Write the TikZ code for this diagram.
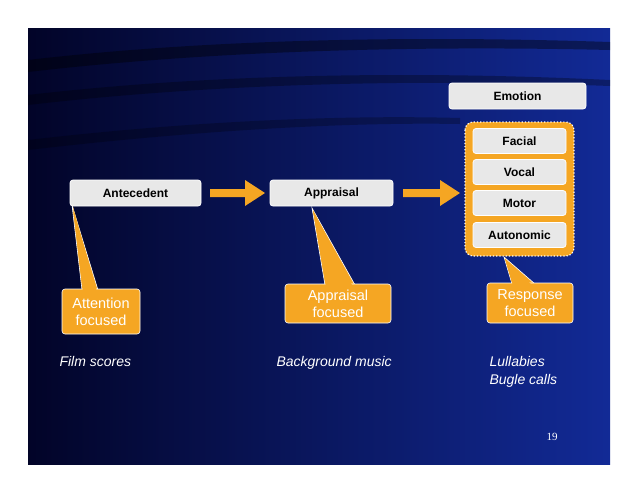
\documentclass[tikz,border=0pt]{standalone}
\usepackage{fontspec}
\setmainfont{Liberation Sans}
\begin{document}
\begin{tikzpicture}[x=1pt,y=-1pt,
  gbox/.style={draw=white,line width=0.8pt,fill=gray!18,rounded corners=3pt,font=\bfseries\fontsize{12}{13}\selectfont,text=black},
  callout/.style={draw=white,line width=0.6pt,fill=orange1,rounded corners=3pt,text=white,font=\fontsize{14.5}{17}\selectfont,align=center},
  note/.style={text=white,font=\itshape\fontsize{14}{18}\selectfont,anchor=north west,align=left},
  blockarrow/.style={fill=orange1,draw=none}]
\definecolor{orange1}{HTML}{F5A623}
\useasboundingbox (0,0) rectangle (638,493);
\fill[white] (0,0) rectangle (638,493);
\shade[left color={rgb,255:red,2;green,4;blue,40}, middle color={rgb,255:red,10;green,26;blue,120}, right color={rgb,255:red,18;green,42;blue,150}] (28,28) rectangle (610,464);
\fill[black,opacity=0.4] (28,60) .. controls (200,40) and (400,35) .. (610,42) -- (610,50) .. controls (400,45) and (200,52) .. (28,72) -- cycle;
\fill[black,opacity=0.3] (28,95) .. controls (200,75) and (400,70) .. (610,80) -- (610,86) .. controls (400,78) and (200,85) .. (28,105) -- cycle;
\fill[black,opacity=0.25] (28,140) .. controls (200,120) and (350,115) .. (460,118) -- (460,124) .. controls (350,122) and (200,130) .. (28,150) -- cycle;

\node[gbox,minimum width=137pt,minimum height=26pt] (emo) at (517.5,96) {Emotion};
\draw[white,line width=1.2pt,dotted,fill=orange1,rounded corners=8pt] (465,122) rectangle (574,256);
\node[gbox,minimum width=93pt,minimum height=25pt] (fac) at (519.5,141) {Facial};
\node[gbox,minimum width=93pt,minimum height=25pt] (voc) at (519.5,172) {Vocal};
\node[gbox,minimum width=93pt,minimum height=25pt] (mot) at (519.5,203) {Motor};
\node[gbox,minimum width=93pt,minimum height=25pt] (aut) at (519.5,235) {Autonomic};

\node[gbox,minimum width=131pt,minimum height=26pt] (ant) at (135.5,193) {Antecedent};
\node[gbox,minimum width=123pt,minimum height=26pt] (app) at (331.5,193) {Appraisal};

\fill[blockarrow] (210,189) -- (245,189) -- (245,180) -- (265,193) -- (245,206) -- (245,197) -- (210,197) -- cycle;
\fill[blockarrow] (403,189) -- (440,189) -- (440,180) -- (460,193) -- (440,206) -- (440,197) -- (403,197) -- cycle;

\fill[orange1,draw=white,line width=0.6pt] (72,205) -- (98,290) -- (82,290) -- cycle;
\node[callout,minimum width=78pt,minimum height=45pt] (att) at (101,311.5) {Attention\\focused};
\fill[orange1] (73,207) -- (97,292) -- (83,292) -- cycle;

\fill[orange1,draw=white,line width=0.6pt] (312,208) -- (355,285) -- (325,285) -- cycle;
\node[callout,minimum width=106pt,minimum height=39pt] (apf) at (338,303.5) {Appraisal\\focused};
\fill[orange1] (313,210) -- (353,287) -- (326,287) -- cycle;

\fill[orange1,draw=white,line width=0.6pt] (504,257) -- (535,284) -- (512,284) -- cycle;
\node[callout,minimum width=86pt,minimum height=40pt] (rsp) at (530,303) {Response\\focused};
\fill[orange1] (505,259) -- (533,286) -- (513,286) -- cycle;

\node[note] (fs) at (56,353) {Film scores};
\node[note] (bm) at (273,353) {Background music};
\node[note] (lb) at (486,353) {Lullabies\\Bugle calls};
\node[text=white,font=\fontspec{Liberation Serif}\fontsize{11}{12}\selectfont] (pg) at (552,437) {19};
\end{tikzpicture}
\end{document}
